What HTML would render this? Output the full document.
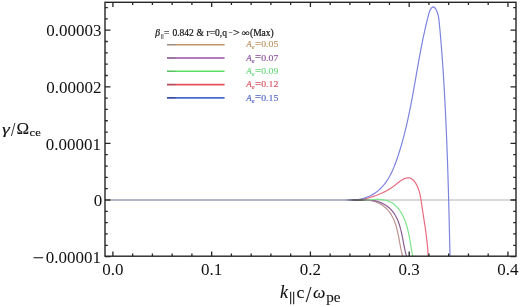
<!DOCTYPE html>
<html><head><meta charset="utf-8"><style>
html,body{margin:0;padding:0;background:#fff;}
svg{display:block;}
</style></head><body>
<svg width="520" height="307" viewBox="0 0 520 307" font-family="'Liberation Serif', serif">
<defs><clipPath id="pa"><rect x="105.0" y="2.3" width="411.00" height="253.90"/></clipPath></defs>
<rect width="520" height="307" fill="#fff"/>
<line x1="105.0" y1="200.0" x2="516.0" y2="200.0" stroke="#cdcdcd" stroke-width="1.5"/>
<g fill="none" stroke-linejoin="round" stroke-linecap="round" clip-path="url(#pa)">
<path d="M110.6 200.0H352" stroke="#a6abc2" stroke-width="1.6"/>
<defs><linearGradient id="dk" x1="346" x2="372" y1="0" y2="0" gradientUnits="userSpaceOnUse"><stop offset="0" stop-color="#a6abc2"/><stop offset="0.3" stop-color="#5a5c70"/><stop offset="0.6" stop-color="#606058"/><stop offset="1" stop-color="#a0a890" stop-opacity="0"/></linearGradient></defs>
<path d="M352.00,200.17 352.38,200.15 352.76,200.12 353.14,200.09 353.53,200.07 353.92,200.04 354.31,200.02 354.70,200.00 355.09,199.97 355.49,199.95 355.89,199.93 356.29,199.91 356.69,199.89 357.09,199.88 357.49,199.86 357.90,199.85 358.30,199.83 358.71,199.82 359.12,199.81 359.53,199.80 359.93,199.80 360.35,199.79 360.76,199.79 361.17,199.79 361.58,199.79 361.99,199.80 362.40,199.80 362.82,199.81 363.23,199.82 363.64,199.84 364.06,199.85 364.47,199.87 364.88,199.89 365.30,199.92 365.71,199.95 366.12,199.98 366.53,200.01 366.94,200.05 367.36,200.09 367.77,200.13 368.17,200.18 368.58,200.23 368.99,200.29 369.40,200.35 369.80,200.41 370.21,200.47 370.61,200.54 371.01,200.62 371.41,200.70 371.81,200.78 372.21,200.87 372.60,200.96 373.00,201.06 373.39,201.16 373.78,201.26 374.16,201.37 374.55,201.49 374.93,201.61 375.32,201.73 375.69,201.86 376.07,202.00 376.45,202.14 376.82,202.28 377.19,202.43 377.55,202.59 377.92,202.75 378.28,202.92 378.64,203.09 378.99,203.26 379.35,203.45 379.70,203.63 380.05,203.82 380.39,204.02 380.73,204.22 381.07,204.42 381.41,204.63 381.74,204.84 382.07,205.06 382.40,205.28 382.72,205.51 383.04,205.74 383.36,205.97 383.67,206.21 383.98,206.45 384.29,206.70 384.59,206.95 384.90,207.21 385.19,207.47 385.49,207.73 385.78,207.99 386.06,208.26 386.35,208.54 386.63,208.81 386.90,209.09 387.17,209.38 387.44,209.67 387.71,209.96 387.97,210.25 388.23,210.55 388.48,210.85 388.73,211.15 388.97,211.46 389.22,211.77 389.45,212.08 389.69,212.39 389.92,212.71 390.14,213.03 390.36,213.36 390.58,213.68 390.80,214.01 391.01,214.35 391.21,214.68 391.42,215.02 391.62,215.36 391.81,215.70 392.01,216.04 392.19,216.39 392.38,216.74 392.56,217.09 392.74,217.44 392.92,217.80 393.09,218.15 393.26,218.51 393.43,218.88 393.59,219.24 393.75,219.61 393.91,219.97 394.06,220.34 394.22,220.71 394.36,221.09 394.51,221.46 394.66,221.84 394.80,222.22 394.93,222.60 395.07,222.98 395.20,223.36 395.34,223.75 395.46,224.13 395.59,224.52 395.72,224.91 395.84,225.30 395.96,225.69 396.07,226.08 396.19,226.47 396.30,226.87 396.42,227.26 396.53,227.66 396.63,228.05 396.74,228.45 396.84,228.85 396.95,229.25 397.05,229.65 397.15,230.05 397.24,230.46 397.34,230.86 397.44,231.26 397.53,231.67 397.62,232.07 397.71,232.48 397.80,232.88 397.89,233.29 397.98,233.69 398.06,234.10 398.15,234.50 398.23,234.91 398.31,235.32 398.39,235.73 398.48,236.13 398.56,236.54 398.64,236.95 398.71,237.35 398.79,237.76 398.87,238.17 398.95,238.57 399.02,238.98 399.10,239.39 399.17,239.79 399.25,240.20 399.32,240.60 399.40,241.00 399.47,241.41 399.55,241.81 399.62,242.21 399.70,242.62 399.77,243.02 399.84,243.42 399.92,243.82 399.99,244.22 400.07,244.61 400.14,245.01 400.22,245.41 400.29,245.80 400.37,246.19 400.44,246.59 400.52,246.98 400.60,247.37 400.68,247.76 400.75,248.15 400.83,248.53 400.91,248.92 400.99,249.30 401.08,249.68 401.16,250.06 401.24,250.44 401.33,250.82 401.41,251.20 401.50,251.57 401.58,251.94 401.67,252.31 401.76,252.68 401.85,253.05 401.95,253.41 402.04,253.78 402.14,254.14 402.23,254.50 402.33,254.85 402.43,255.21 402.53,255.56 402.64,255.91 402.74,256.26" stroke="#bc928e" stroke-width="1.2"/>
<path d="M352.04,200.17 352.43,200.16 352.82,200.14 353.21,200.12 353.61,200.10 354.01,200.08 354.41,200.07 354.81,200.05 355.22,200.03 355.63,200.01 356.04,199.99 356.45,199.97 356.86,199.95 357.27,199.93 357.69,199.91 358.11,199.90 358.52,199.88 358.94,199.86 359.37,199.85 359.79,199.84 360.21,199.82 360.64,199.81 361.06,199.80 361.49,199.79 361.92,199.79 362.34,199.78 362.77,199.78 363.20,199.77 363.63,199.77 364.06,199.78 364.49,199.78 364.92,199.78 365.35,199.79 365.78,199.80 366.21,199.82 366.65,199.83 367.08,199.85 367.51,199.87 367.94,199.89 368.37,199.92 368.80,199.95 369.23,199.98 369.65,200.02 370.08,200.06 370.51,200.10 370.94,200.15 371.36,200.20 371.79,200.25 372.21,200.31 372.63,200.37 373.05,200.44 373.47,200.51 373.89,200.58 374.31,200.66 374.73,200.74 375.14,200.83 375.55,200.92 375.96,201.02 376.37,201.12 376.78,201.23 377.19,201.34 377.59,201.45 377.99,201.58 378.39,201.70 378.79,201.83 379.18,201.97 379.57,202.11 379.96,202.26 380.35,202.42 380.74,202.57 381.12,202.74 381.50,202.91 381.88,203.08 382.25,203.26 382.62,203.44 382.99,203.63 383.36,203.82 383.72,204.02 384.08,204.22 384.44,204.43 384.79,204.64 385.14,204.85 385.49,205.07 385.83,205.30 386.18,205.53 386.51,205.76 386.85,206.00 387.18,206.24 387.51,206.49 387.83,206.74 388.15,206.99 388.47,207.25 388.78,207.51 389.09,207.78 389.40,208.05 389.70,208.33 389.99,208.61 390.29,208.89 390.58,209.18 390.86,209.47 391.14,209.76 391.42,210.06 391.69,210.36 391.96,210.67 392.23,210.98 392.48,211.29 392.74,211.61 392.99,211.92 393.24,212.25 393.48,212.57 393.72,212.90 393.95,213.24 394.18,213.57 394.40,213.91 394.63,214.25 394.84,214.60 395.06,214.94 395.26,215.30 395.47,215.65 395.67,216.01 395.87,216.36 396.06,216.73 396.26,217.09 396.44,217.46 396.63,217.83 396.81,218.20 396.98,218.57 397.16,218.95 397.33,219.33 397.50,219.71 397.66,220.09 397.82,220.48 397.98,220.86 398.14,221.25 398.29,221.65 398.44,222.04 398.58,222.43 398.73,222.83 398.87,223.23 399.01,223.63 399.14,224.03 399.28,224.44 399.41,224.84 399.54,225.25 399.66,225.65 399.79,226.06 399.91,226.47 400.03,226.89 400.15,227.30 400.26,227.71 400.37,228.13 400.49,228.54 400.60,228.96 400.70,229.38 400.81,229.80 400.91,230.22 401.02,230.64 401.12,231.06 401.22,231.48 401.31,231.90 401.41,232.33 401.50,232.75 401.60,233.18 401.69,233.60 401.78,234.02 401.87,234.45 401.96,234.87 402.05,235.30 402.14,235.72 402.22,236.15 402.31,236.57 402.39,237.00 402.47,237.42 402.56,237.85 402.64,238.27 402.72,238.70 402.80,239.12 402.88,239.55 402.96,239.97 403.04,240.39 403.12,240.81 403.20,241.24 403.28,241.66 403.36,242.08 403.44,242.50 403.51,242.91 403.59,243.33 403.67,243.75 403.75,244.16 403.83,244.58 403.91,244.99 403.99,245.40 404.07,245.81 404.15,246.22 404.23,246.63 404.31,247.04 404.39,247.45 404.47,247.85 404.56,248.25 404.64,248.65 404.73,249.05 404.81,249.45 404.90,249.85 404.98,250.24 405.07,250.63 405.16,251.02 405.25,251.41 405.35,251.80 405.44,252.18 405.53,252.56 405.63,252.94 405.73,253.32 405.82,253.69 405.93,254.07 406.03,254.44 406.13,254.80 406.24,255.17 406.34,255.53 406.45,255.89 406.56,256.25" stroke="#8a5a94" stroke-width="1.2"/>
<path d="M352.00,200.08 352.40,200.14 352.80,200.20 353.21,200.25 353.61,200.29 354.03,200.33 354.44,200.36 354.86,200.39 355.29,200.42 355.71,200.44 356.14,200.45 356.58,200.46 357.01,200.47 357.45,200.47 357.90,200.47 358.34,200.47 358.79,200.46 359.24,200.45 359.69,200.43 360.15,200.42 360.61,200.40 361.07,200.37 361.53,200.35 361.99,200.32 362.46,200.30 362.93,200.27 363.40,200.24 363.87,200.20 364.34,200.17 364.82,200.13 365.29,200.10 365.77,200.06 366.25,200.02 366.73,199.99 367.21,199.95 367.69,199.91 368.17,199.88 368.65,199.84 369.13,199.80 369.61,199.77 370.10,199.73 370.58,199.70 371.06,199.67 371.55,199.64 372.03,199.61 372.51,199.58 372.99,199.55 373.47,199.53 373.96,199.51 374.44,199.49 374.92,199.48 375.39,199.46 375.87,199.45 376.35,199.45 376.82,199.44 377.30,199.45 377.77,199.45 378.24,199.46 378.71,199.47 379.18,199.49 379.65,199.51 380.11,199.53 380.57,199.56 381.03,199.60 381.49,199.64 381.95,199.69 382.40,199.74 382.85,199.79 383.30,199.86 383.74,199.93 384.18,200.00 384.62,200.08 385.06,200.17 385.49,200.27 385.92,200.37 386.35,200.48 386.77,200.59 387.19,200.72 387.61,200.85 388.02,200.99 388.43,201.14 388.83,201.29 389.23,201.46 389.63,201.63 390.02,201.81 390.41,202.00 390.79,202.20 391.17,202.41 391.54,202.62 391.91,202.84 392.28,203.08 392.64,203.32 392.99,203.56 393.35,203.82 393.69,204.08 394.04,204.35 394.38,204.62 394.71,204.91 395.04,205.20 395.37,205.49 395.69,205.79 396.01,206.10 396.33,206.42 396.64,206.74 396.94,207.06 397.24,207.39 397.54,207.73 397.83,208.07 398.12,208.42 398.41,208.77 398.69,209.13 398.96,209.49 399.24,209.86 399.50,210.23 399.77,210.60 400.03,210.98 400.28,211.36 400.54,211.75 400.78,212.13 401.03,212.53 401.27,212.92 401.50,213.32 401.73,213.72 401.96,214.12 402.18,214.53 402.40,214.94 402.62,215.35 402.83,215.76 403.03,216.17 403.24,216.59 403.43,217.00 403.63,217.42 403.82,217.84 404.01,218.26 404.19,218.69 404.37,219.11 404.55,219.54 404.72,219.96 404.89,220.39 405.05,220.82 405.22,221.25 405.38,221.68 405.53,222.11 405.68,222.55 405.83,222.98 405.98,223.42 406.12,223.86 406.27,224.29 406.40,224.73 406.54,225.17 406.67,225.61 406.80,226.06 406.93,226.50 407.05,226.94 407.17,227.39 407.29,227.83 407.41,228.28 407.53,228.72 407.64,229.17 407.75,229.62 407.86,230.07 407.97,230.51 408.07,230.96 408.17,231.41 408.28,231.86 408.37,232.31 408.47,232.76 408.57,233.22 408.66,233.67 408.76,234.12 408.85,234.57 408.94,235.02 409.03,235.48 409.11,235.93 409.20,236.38 409.28,236.83 409.37,237.29 409.45,237.74 409.53,238.19 409.61,238.65 409.70,239.10 409.77,239.55 409.85,240.01 409.93,240.46 410.01,240.91 410.09,241.36 410.16,241.81 410.24,242.27 410.32,242.72 410.39,243.17 410.47,243.62 410.54,244.07 410.62,244.52 410.69,244.97 410.77,245.42 410.85,245.86 410.92,246.31 411.00,246.76 411.07,247.21 411.15,247.65 411.23,248.10 411.31,248.54 411.38,248.98 411.46,249.43 411.54,249.87 411.62,250.31 411.70,250.75 411.79,251.19 411.87,251.63 411.95,252.06 412.04,252.50 412.12,252.94 412.21,253.37 412.30,253.80 412.39,254.24 412.48,254.67 412.58,255.10 412.67,255.52 412.77,255.95 412.86,256.38" stroke="#7ce48c" stroke-width="1.2"/>
<path d="M350.01,199.87 350.68,199.91 351.35,199.93 352.02,199.95 352.70,199.95 353.37,199.95 354.04,199.94 354.72,199.92 355.39,199.89 356.07,199.86 356.74,199.81 357.42,199.76 358.09,199.70 358.77,199.63 359.44,199.56 360.11,199.47 360.79,199.38 361.46,199.28 362.13,199.18 362.81,199.07 363.48,198.95 364.15,198.82 364.82,198.69 365.49,198.55 366.15,198.40 366.82,198.25 367.48,198.09 368.14,197.92 368.80,197.75 369.46,197.57 370.12,197.39 370.77,197.20 371.43,197.01 372.08,196.81 372.73,196.61 373.37,196.40 374.02,196.18 374.66,195.96 375.29,195.74 375.93,195.51 376.56,195.27 377.19,195.04 377.82,194.79 378.44,194.55 379.06,194.30 379.67,194.04 380.29,193.78 380.89,193.52 381.50,193.25 382.10,192.98 382.70,192.71 383.30,192.43 383.89,192.14 384.48,191.85 385.07,191.55 385.65,191.25 386.23,190.94 386.82,190.62 387.40,190.30 387.97,189.97 388.55,189.63 389.12,189.28 389.70,188.93 390.27,188.57 390.84,188.20 391.41,187.82 391.98,187.43 392.54,187.03 393.11,186.62 393.68,186.20 394.25,185.77 394.81,185.33 395.38,184.89 395.95,184.43 396.52,183.98 397.09,183.52 397.66,183.06 398.23,182.60 398.81,182.16 399.38,181.72 399.96,181.29 400.54,180.87 401.13,180.48 401.72,180.10 402.31,179.74 402.91,179.40 403.51,179.09 404.11,178.81 404.72,178.56 405.34,178.34 405.95,178.16 406.57,178.02 407.18,177.92 407.79,177.87 408.38,177.87 408.97,177.92 409.54,178.03 410.09,178.18 410.63,178.39 411.16,178.64 411.67,178.94 412.17,179.28 412.66,179.66 413.13,180.07 413.58,180.52 414.02,180.99 414.44,181.50 414.86,182.03 415.25,182.59 415.63,183.16 416.00,183.76 416.35,184.37 416.68,184.99 417.01,185.62 417.31,186.26 417.60,186.90 417.88,187.55 418.14,188.19 418.38,188.84 418.62,189.50 418.84,190.15 419.05,190.81 419.25,191.46 419.43,192.12 419.61,192.78 419.78,193.45 419.93,194.11 420.08,194.78 420.22,195.44 420.36,196.11 420.49,196.78 420.61,197.44 420.73,198.11 420.84,198.78 420.95,199.45 421.05,200.12 421.15,200.80 421.25,201.47 421.35,202.14 421.45,202.81 421.54,203.48 421.64,204.15 421.74,204.82 421.84,205.49 421.93,206.17 422.03,206.84 422.13,207.51 422.23,208.18 422.33,208.85 422.44,209.51 422.54,210.18 422.64,210.85 422.74,211.52 422.85,212.19 422.95,212.86 423.05,213.53 423.15,214.20 423.26,214.86 423.36,215.53 423.47,216.20 423.57,216.87 423.67,217.54 423.78,218.20 423.88,218.87 423.98,219.54 424.08,220.21 424.19,220.88 424.29,221.54 424.39,222.21 424.49,222.88 424.59,223.55 424.69,224.21 424.79,224.88 424.89,225.55 424.99,226.22 425.09,226.89 425.19,227.55 425.29,228.22 425.38,228.89 425.48,229.56 425.57,230.23 425.67,230.90 425.76,231.57 425.85,232.23 425.94,232.90 426.03,233.57 426.12,234.24 426.21,234.91 426.29,235.58 426.38,236.25 426.46,236.92 426.55,237.59 426.63,238.26 426.71,238.94 426.78,239.61 426.86,240.28 426.94,240.95 427.01,241.62 427.08,242.30 427.15,242.97 427.22,243.64 427.29,244.32 427.36,244.99 427.42,245.66 427.48,246.34 427.54,247.01 427.60,247.69 427.66,248.37 427.71,249.04 427.76,249.72 427.81,250.40 427.86,251.07 427.91,251.75 427.95,252.43 427.99,253.11 428.03,253.79 428.07,254.47 428.10,255.15 428.13,255.83 428.16,256.51" stroke="#e86c80" stroke-width="1.2"/>
<path d="M350.04,199.73 352.15,199.87 354.29,199.86 356.45,199.71 358.63,199.42 360.81,199.01 362.97,198.47 365.11,197.82 367.22,197.05 369.27,196.18 371.27,195.20 373.20,194.12 375.04,192.96 376.79,191.70 378.46,190.37 380.04,188.95 381.54,187.46 382.97,185.90 384.32,184.28 385.61,182.59 386.83,180.85 387.99,179.05 389.09,177.20 390.13,175.31 391.13,173.38 392.07,171.41 392.98,169.41 393.84,167.38 394.67,165.33 395.46,163.26 396.22,161.17 396.96,159.07 397.68,156.97 398.37,154.86 399.05,152.75 399.72,150.64 400.36,148.53 400.99,146.41 401.61,144.30 402.21,142.19 402.80,140.07 403.37,137.95 403.93,135.84 404.48,133.72 405.01,131.60 405.53,129.48 406.04,127.36 406.54,125.24 407.03,123.11 407.51,120.99 407.98,118.86 408.44,116.74 408.89,114.61 409.33,112.49 409.77,110.36 410.20,108.23 410.62,106.10 411.03,103.97 411.44,101.84 411.84,99.71 412.24,97.57 412.64,95.44 413.03,93.30 413.41,91.17 413.79,89.03 414.17,86.90 414.55,84.76 414.93,82.62 415.30,80.48 415.68,78.34 416.05,76.20 416.42,74.06 416.80,71.92 417.17,69.78 417.55,67.64 417.93,65.49 418.31,63.35 418.69,61.21 419.08,59.06 419.47,56.91 419.86,54.77 420.26,52.62 420.66,50.47 421.08,48.33 421.49,46.18 421.91,44.03 422.34,41.88 422.78,39.73 423.23,37.58 423.68,35.43 424.14,33.27 424.61,31.12 425.09,28.97 425.59,26.82 426.09,24.66 426.60,22.51 427.13,20.36 427.67,18.20 428.21,16.05 428.78,13.89 429.45,11.77 430.32,9.74 431.48,7.94 432.80,6.89 434.15,7.11 435.41,8.49 436.49,10.42 437.34,12.47 437.98,14.57 438.46,16.71 438.81,18.87 439.08,21.06 439.30,23.25 439.52,25.44 439.72,27.64 439.93,29.83 440.13,32.02 440.32,34.20 440.52,36.39 440.70,38.57 440.89,40.76 441.07,42.94 441.25,45.12 441.42,47.30 441.60,49.48 441.76,51.66 441.93,53.84 442.09,56.02 442.25,58.19 442.41,60.37 442.56,62.54 442.71,64.72 442.86,66.89 443.01,69.07 443.15,71.24 443.29,73.41 443.43,75.59 443.57,77.76 443.70,79.93 443.83,82.11 443.96,84.28 444.09,86.45 444.21,88.63 444.34,90.80 444.46,92.98 444.58,95.15 444.70,97.33 444.81,99.50 444.93,101.68 445.04,103.86 445.15,106.03 445.26,108.21 445.37,110.39 445.48,112.57 445.58,114.74 445.69,116.92 445.79,119.10 445.89,121.28 445.99,123.46 446.08,125.64 446.18,127.82 446.27,130.00 446.37,132.18 446.46,134.36 446.55,136.54 446.64,138.72 446.73,140.90 446.81,143.08 446.90,145.26 446.98,147.44 447.06,149.62 447.14,151.80 447.22,153.98 447.30,156.17 447.38,158.35 447.45,160.53 447.53,162.71 447.60,164.89 447.68,167.07 447.75,169.26 447.82,171.44 447.89,173.62 447.96,175.80 448.03,177.98 448.09,180.17 448.16,182.35 448.22,184.53 448.29,186.71 448.35,188.90 448.41,191.08 448.47,193.26 448.53,195.44 448.59,197.62 448.65,199.81 448.71,201.99 448.77,204.17 448.83,206.35 448.88,208.53 448.94,210.71 448.99,212.90 449.05,215.08 449.10,217.26 449.15,219.44 449.21,221.62 449.26,223.80 449.31,225.98 449.36,228.16 449.41,230.34 449.46,232.52 449.51,234.70 449.56,236.88 449.61,239.06 449.66,241.24 449.70,243.42 449.75,245.60 449.80,247.77 449.85,249.95 449.89,252.13 449.94,254.31 449.99,256.48" stroke="#7c84e0" stroke-width="1.2"/>
<path d="M346 200.0H372" stroke="url(#dk)" stroke-width="1.9"/>
</g>
<rect x="105.0" y="2.3" width="411.00" height="253.90" fill="none" stroke="#262626" stroke-width="1.4"/>
<path d="M112.90 256.20V251.40M112.90 2.30V7.10M132.65 256.20V253.40M132.65 2.30V5.10M152.40 256.20V253.40M152.40 2.30V5.10M172.16 256.20V253.40M172.16 2.30V5.10M191.91 256.20V253.40M191.91 2.30V5.10M211.66 256.20V251.40M211.66 2.30V7.10M231.41 256.20V253.40M231.41 2.30V5.10M251.16 256.20V253.40M251.16 2.30V5.10M270.92 256.20V253.40M270.92 2.30V5.10M290.67 256.20V253.40M290.67 2.30V5.10M310.42 256.20V251.40M310.42 2.30V7.10M330.17 256.20V253.40M330.17 2.30V5.10M349.92 256.20V253.40M349.92 2.30V5.10M369.68 256.20V253.40M369.68 2.30V5.10M389.43 256.20V253.40M389.43 2.30V5.10M409.18 256.20V251.40M409.18 2.30V7.10M428.93 256.20V253.40M428.93 2.30V5.10M448.68 256.20V253.40M448.68 2.30V5.10M468.44 256.20V253.40M468.44 2.30V5.10M488.19 256.20V253.40M488.19 2.30V5.10M507.94 256.20V251.40M507.94 2.30V7.10M105.00 256.60H110.50M516.00 256.60H510.50M105.00 245.28H107.80M516.00 245.28H513.20M105.00 233.96H107.80M516.00 233.96H513.20M105.00 222.64H107.80M516.00 222.64H513.20M105.00 211.32H107.80M516.00 211.32H513.20M105.00 200.00H110.50M516.00 200.00H510.50M105.00 188.68H107.80M516.00 188.68H513.20M105.00 177.36H107.80M516.00 177.36H513.20M105.00 166.04H107.80M516.00 166.04H513.20M105.00 154.72H107.80M516.00 154.72H513.20M105.00 143.40H110.50M516.00 143.40H510.50M105.00 132.08H107.80M516.00 132.08H513.20M105.00 120.76H107.80M516.00 120.76H513.20M105.00 109.44H107.80M516.00 109.44H513.20M105.00 98.12H107.80M516.00 98.12H513.20M105.00 86.80H110.50M516.00 86.80H510.50M105.00 75.48H107.80M516.00 75.48H513.20M105.00 64.16H107.80M516.00 64.16H513.20M105.00 52.84H107.80M516.00 52.84H513.20M105.00 41.52H107.80M516.00 41.52H513.20M105.00 30.20H110.50M516.00 30.20H510.50M105.00 18.88H107.80M516.00 18.88H513.20M105.00 7.56H107.80M516.00 7.56H513.20" stroke="#262626" stroke-width="1.3" fill="none"/>
<g font-size="17" fill="#111"><text transform="translate(112.90 274.70) scale(1 1.04)" text-anchor="middle">0.0</text><text transform="translate(211.66 274.70) scale(1 1.04)" text-anchor="middle">0.1</text><text transform="translate(310.42 274.70) scale(1 1.04)" text-anchor="middle">0.2</text><text transform="translate(409.18 274.70) scale(1 1.04)" text-anchor="middle">0.3</text><text transform="translate(507.94 274.70) scale(1 1.04)" text-anchor="middle">0.4</text><text transform="translate(101.50 36.40) scale(1 0.99)" text-anchor="end">0.00003</text><text transform="translate(101.50 93.00) scale(1 0.99)" text-anchor="end">0.00002</text><text transform="translate(100.90 149.60) scale(1 0.99)" text-anchor="end">0.00001</text><text transform="translate(102.30 206.20) scale(1 0.99)" text-anchor="end">0</text><text transform="translate(100.90 262.80) scale(1 0.99)" text-anchor="end">0.00001</text><text transform="translate(32.4 264.6) scale(1.22 1.25)">−</text></g>
<g font-size="17" fill="#111" stroke="#111" stroke-width="0.1">
<text transform="translate(1.9 133.8) scale(1.28 1)" font-style="italic" font-size="15.5">γ</text>
<text transform="translate(11.0 136.1) scale(0.8 1)" font-size="19.4">/</text>
<text transform="translate(16.4 134.2)">Ω</text>
<text transform="translate(29.6 136.4) scale(1.2 1)" font-size="10.5">ce</text>
<text transform="translate(280 297.8)" font-style="italic" font-size="18">k</text>
<text transform="translate(289.6 301)" font-size="12" stroke="#1a1a1a" stroke-width="0.45">|</text>
<text transform="translate(292.4 301)" font-size="12" stroke="#1a1a1a" stroke-width="0.45">|</text>
<text transform="translate(296.6 297.8)" font-size="17.5">c</text>
<text transform="translate(305.8 301.5) scale(0.85 1)" font-size="24">/</text>
<text transform="translate(312.9 297.8)" font-style="italic" font-size="17.5">ω</text>
<text transform="translate(326.3 302) scale(1.08 1)" font-size="14">pe</text>
</g>
<g font-size="9.5" fill="#111" stroke="#111" stroke-width="0.2"><text x="155.2" y="35.5" font-style="italic">β</text><text x="160.8" y="37.9" font-size="6.2" fill="#a0a0a0" font-weight="bold">||</text><text y="35.5"><tspan x="164">=</tspan><tspan x="172.4">0.842</tspan><tspan x="196.6">&amp;</tspan><tspan x="206.6">r=0,q</tspan></text><text transform="translate(228.6 35.5) scale(0.75 1)">−</text><text transform="translate(233.0 35.5) scale(1.25 1)">&gt;</text><text transform="translate(241.4 35.5) scale(1.2 1)">∞</text><text x="250" y="35.5">(Max)</text></g>
<defs><linearGradient id="lg0" x1="167" x2="224.6" y1="0" y2="0" gradientUnits="userSpaceOnUse"><stop offset="0" stop-color="#9a8e80"/><stop offset="0.13" stop-color="#9a8e80"/><stop offset="0.17" stop-color="#c29664"/><stop offset="1" stop-color="#c29664"/></linearGradient></defs>
<line x1="167" y1="44.7" x2="224.6" y2="44.7" stroke="url(#lg0)" stroke-width="1.6"/>
<g fill="#bc9464" font-size="9" transform="translate(246.2 47.3)"><text x="0" y="0" font-style="italic" stroke="#bc9464" stroke-width="0.2">A</text><text x="5.6" y="2.0" font-style="italic" font-size="6.3" stroke="#bc9464" stroke-width="0.15">e</text><text transform="translate(8.7 0.7) scale(1.22 1.3)" stroke="#bc9464" stroke-width="0.1">=</text><text transform="translate(15.0 0) scale(1.09 1)" stroke="#bc9464" stroke-width="0.15">0.05</text></g>
<defs><linearGradient id="lg1" x1="167" x2="224.6" y1="0" y2="0" gradientUnits="userSpaceOnUse"><stop offset="0" stop-color="#7a4a80"/><stop offset="0.13" stop-color="#7a4a80"/><stop offset="0.17" stop-color="#9a50a4"/><stop offset="1" stop-color="#9a50a4"/></linearGradient></defs>
<line x1="167" y1="58.0" x2="224.6" y2="58.0" stroke="url(#lg1)" stroke-width="1.6"/>
<g fill="#8a54a0" font-size="9" transform="translate(246.2 60.6)"><text x="0" y="0" font-style="italic" stroke="#8a54a0" stroke-width="0.2">A</text><text x="5.6" y="2.0" font-style="italic" font-size="6.3" stroke="#8a54a0" stroke-width="0.15">e</text><text transform="translate(8.7 0.7) scale(1.22 1.3)" stroke="#8a54a0" stroke-width="0.1">=</text><text transform="translate(15.0 0) scale(1.09 1)" stroke="#8a54a0" stroke-width="0.15">0.07</text></g>
<defs><linearGradient id="lg2" x1="167" x2="224.6" y1="0" y2="0" gradientUnits="userSpaceOnUse"><stop offset="0" stop-color="#58c060"/><stop offset="0.13" stop-color="#58c060"/><stop offset="0.17" stop-color="#5ae068"/><stop offset="1" stop-color="#5ae068"/></linearGradient></defs>
<line x1="167" y1="71.3" x2="224.6" y2="71.3" stroke="url(#lg2)" stroke-width="1.6"/>
<g fill="#6cd880" font-size="9" transform="translate(246.2 73.9)"><text x="0" y="0" font-style="italic" stroke="#6cd880" stroke-width="0.2">A</text><text x="5.6" y="2.0" font-style="italic" font-size="6.3" stroke="#6cd880" stroke-width="0.15">e</text><text transform="translate(8.7 0.7) scale(1.22 1.3)" stroke="#6cd880" stroke-width="0.1">=</text><text transform="translate(15.0 0) scale(1.09 1)" stroke="#6cd880" stroke-width="0.15">0.09</text></g>
<defs><linearGradient id="lg3" x1="167" x2="224.6" y1="0" y2="0" gradientUnits="userSpaceOnUse"><stop offset="0" stop-color="#b84a58"/><stop offset="0.13" stop-color="#b84a58"/><stop offset="0.17" stop-color="#e8505c"/><stop offset="1" stop-color="#e8505c"/></linearGradient></defs>
<line x1="167" y1="84.6" x2="224.6" y2="84.6" stroke="url(#lg3)" stroke-width="1.6"/>
<g fill="#d85462" font-size="9" transform="translate(246.2 87.2)"><text x="0" y="0" font-style="italic" stroke="#d85462" stroke-width="0.2">A</text><text x="5.6" y="2.0" font-style="italic" font-size="6.3" stroke="#d85462" stroke-width="0.15">e</text><text transform="translate(8.7 0.7) scale(1.22 1.3)" stroke="#d85462" stroke-width="0.1">=</text><text transform="translate(15.0 0) scale(1.09 1)" stroke="#d85462" stroke-width="0.15">0.12</text></g>
<defs><linearGradient id="lg4" x1="167" x2="224.6" y1="0" y2="0" gradientUnits="userSpaceOnUse"><stop offset="0" stop-color="#3a4ea8"/><stop offset="0.13" stop-color="#3a4ea8"/><stop offset="0.17" stop-color="#4a68d0"/><stop offset="1" stop-color="#4a68d0"/></linearGradient></defs>
<line x1="167" y1="97.9" x2="224.6" y2="97.9" stroke="url(#lg4)" stroke-width="1.6"/>
<g fill="#5468c4" font-size="9" transform="translate(246.2 100.5)"><text x="0" y="0" font-style="italic" stroke="#5468c4" stroke-width="0.2">A</text><text x="5.6" y="2.0" font-style="italic" font-size="6.3" stroke="#5468c4" stroke-width="0.15">e</text><text transform="translate(8.7 0.7) scale(1.22 1.3)" stroke="#5468c4" stroke-width="0.1">=</text><text transform="translate(15.0 0) scale(1.09 1)" stroke="#5468c4" stroke-width="0.15">0.15</text></g>
</svg>
</body></html>
